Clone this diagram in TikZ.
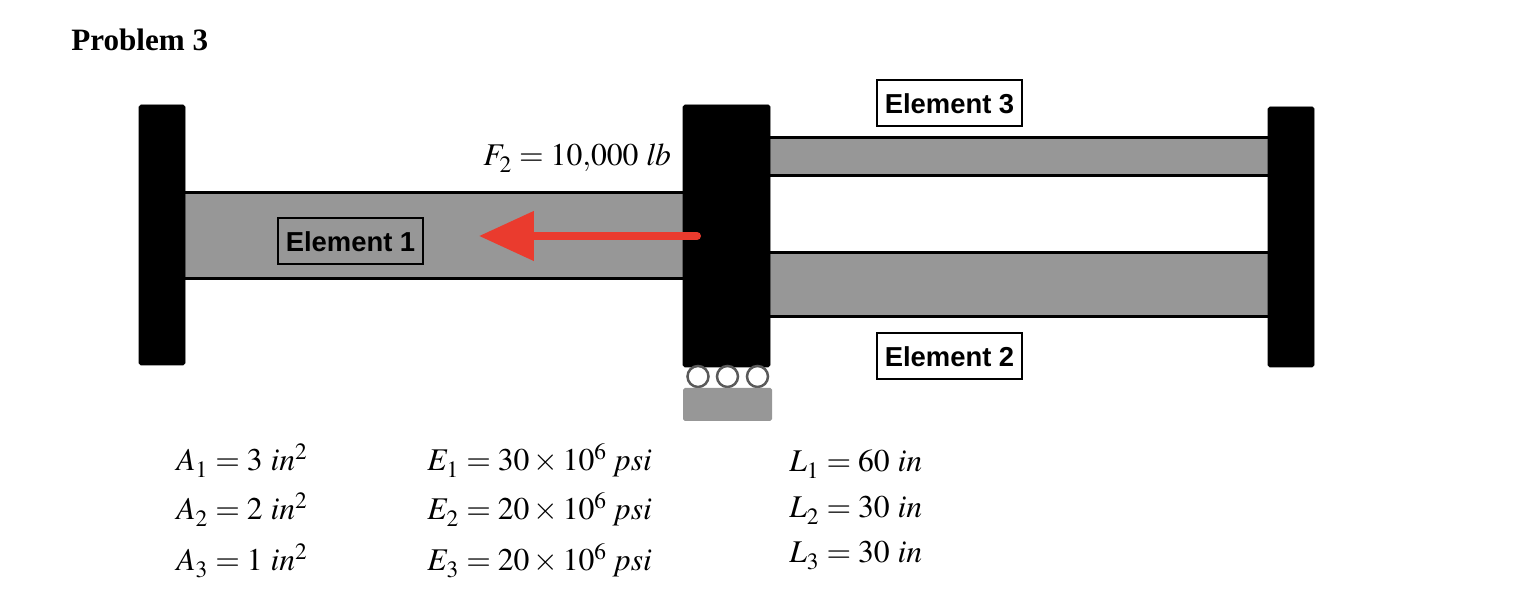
\documentclass[tikz,border=0pt]{standalone}
\usepackage{mathptmx}
\usepackage[no-math]{fontspec}
\setmainfont{Liberation Serif}
\newfontfamily\labelfont{Liberation Sans}
\usetikzlibrary{arrows.meta}
\definecolor{barGray}{HTML}{979797}
\definecolor{forceRed}{HTML}{EA3B2E}
\newcommand{\dropsub}[1]{_{\raisebox{-1pt}{$\scriptstyle #1$}}}
\begin{document}
\begin{tikzpicture}[x=0.02cm, y=-0.02cm]
    \tikzstyle{wall} = [fill=black, rounded corners=1pt]
    \tikzstyle{bar} = [fill=barGray]
    \tikzstyle{edge} = [line width=0.06cm]
    \tikzstyle{tag} = [draw, line width=0.05cm, font=\labelfont\bfseries\fontsize{15.6}{18}\selectfont, minimum width=2.9cm, minimum height=0.92cm, inner sep=0pt, text height=0.44cm]
    \tikzstyle{eqn} = [anchor=base west, inner sep=0pt, font=\fontsize{18}{22}\selectfont]
    \tikzstyle{roller} = [draw=black!65, line width=0.05cm, fill=white]
    \useasboundingbox (0, 0) rectangle (1532, 590);

    \node[anchor=base west, inner sep=0pt, font=\bfseries\fontsize{17.7}{21}\selectfont] (title) at (71, 51) {Problem 3};

    % bars
    \fill[bar] (185, 193) rectangle (683, 279);
    \draw[edge] (185, 193) -- (683, 193);
    \draw[edge] (185, 279) -- (683, 279);
    \fill[bar] (770, 138) rectangle (1268, 176);
    \draw[edge] (770, 138) -- (1268, 138);
    \draw[edge] (770, 176) -- (1268, 176);
    \fill[bar] (770, 253) rectangle (1268, 317);
    \draw[edge] (770, 253) -- (1268, 253);
    \draw[edge] (770, 317) -- (1268, 317);

    % walls and block
    \draw[wall] (139, 105) rectangle (185, 365);
    \draw[wall] (683, 105) rectangle (770, 367);
    \draw[wall] (1268, 107) rectangle (1314, 367);

    % rollers
    \foreach \x in {698, 727.5, 757.5} {
        \draw[roller] (\x, 376.5) circle (0.21cm);
    }
    \fill[barGray, rounded corners=1pt] (683, 388) rectangle (772, 421);

    % force
    \coordinate (forceStart) at (697, 236);
    \coordinate (forceEnd) at (479, 236);
    \draw[forceRed, line width=0.16cm, line cap=round, -{Triangle[sharp, length=1.1cm, width=0.96cm]}] (forceStart) -- (forceEnd);
    \node[eqn] (force) at (483, 166) {$F\dropsub{2} = 10{,}000\ \mathit{lb}$};

    \node[tag] (elem1) at (350.5, 241) {Element 1};
    \node[tag] (elem2) at (949.5, 356) {Element 2};
    \node[tag] (elem3) at (949.5, 103) {Element 3};

    % data
    \node[eqn] (a1) at (176, 471) {$A\dropsub{1} = 3\ \mathit{in}^2$};
    \node[eqn] (a2) at (176, 520) {$A\dropsub{2} = 2\ \mathit{in}^2$};
    \node[eqn] (a3) at (176, 571) {$A\dropsub{3} = 1\ \mathit{in}^2$};
    \node[eqn] (e1) at (427, 471) {$E\dropsub{1} = 30 \times 10^6\ \mathit{psi}$};
    \node[eqn] (e2) at (427, 520) {$E\dropsub{2} = 20 \times 10^6\ \mathit{psi}$};
    \node[eqn] (e3) at (427, 571) {$E\dropsub{3} = 20 \times 10^6\ \mathit{psi}$};
    \node[eqn] (l1) at (789, 472) {$L\dropsub{1} = 60\ \mathit{in}$};
    \node[eqn] (l2) at (789, 518) {$L\dropsub{2} = 30\ \mathit{in}$};
    \node[eqn] (l3) at (789, 563) {$L\dropsub{3} = 30\ \mathit{in}$};
\end{tikzpicture}
\end{document}
